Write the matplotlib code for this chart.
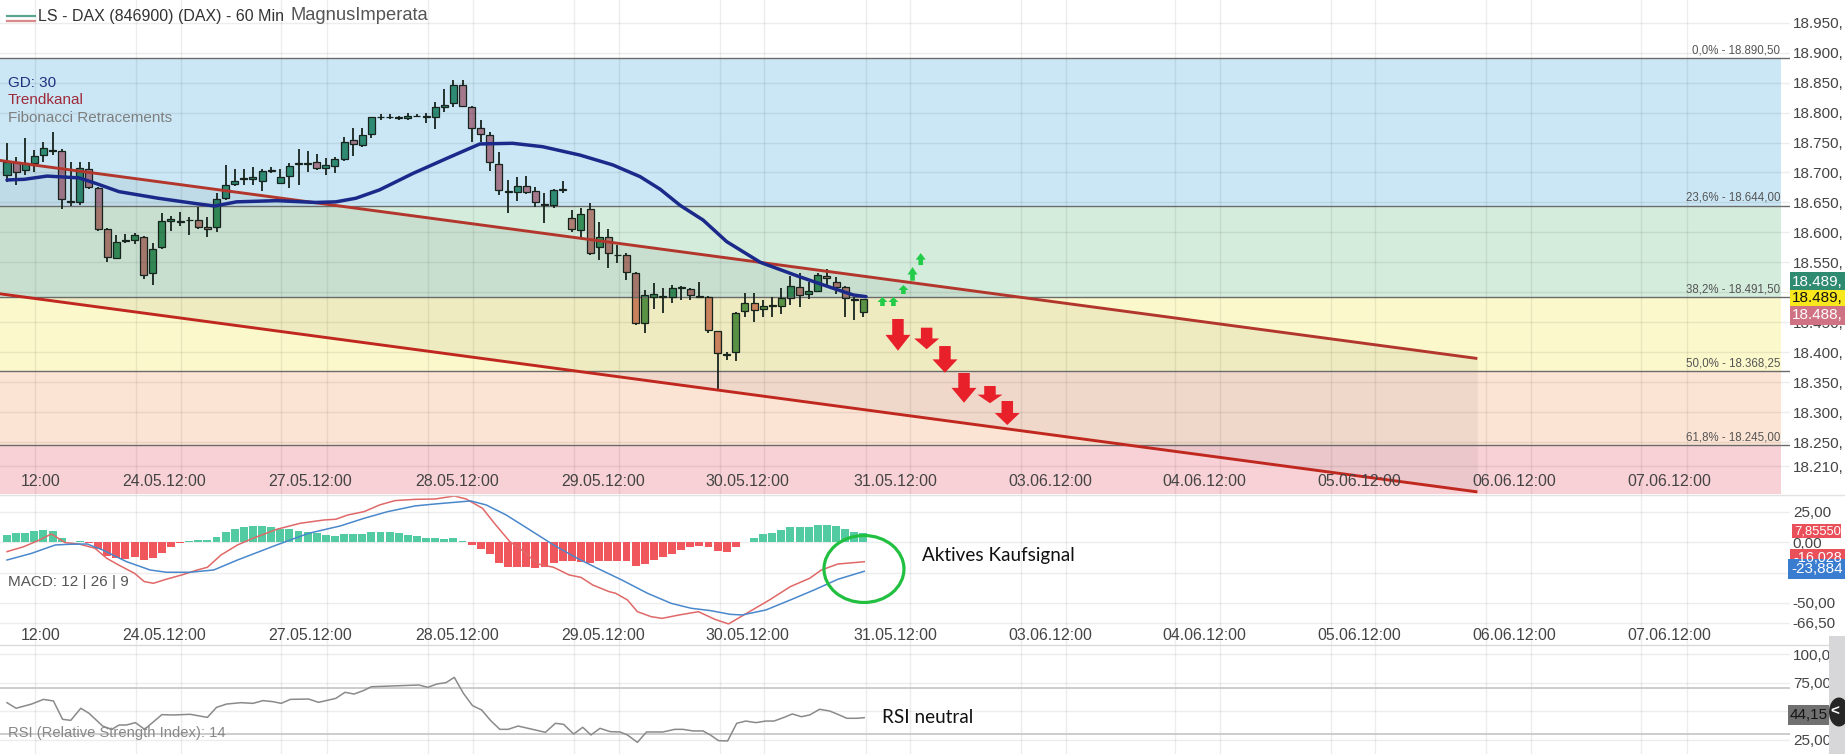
import matplotlib
matplotlib.use("Agg")
import matplotlib.pyplot as plt
import matplotlib.colors as mcolors
from matplotlib.patches import Rectangle, Ellipse, Polygon
from matplotlib.lines import Line2D
import numpy as np

plt.rcParams['font.family'] = ['Liberation Sans', 'DejaVu Sans']

# ---------------- data ----------------
OPEN = [18695.8, 18718.1, 18704.2, 18716.4, 18729.2, 18735.9, 18735.9, 18653.0, 18651.4, 18705.3,
        18673.6, 18605.2, 18557.9, 18586.5, 18587.4, 18592.9, 18531.8, 18575.2, 18618.6, 18618.0,
        18620.8, 18620.8, 18608.6, 18608.6, 18656.9, 18680.8, 18688.6, 18688.6, 18686.4, 18702.5,
        18683.0, 18694.2, 18715.3, 18715.3, 18717.0, 18707.0, 18710.8, 18722.0, 18754.0, 18746.0,
        18764.0, 18792.0, 18793.0, 18792.0, 18791.0, 18794.0, 18795.0, 18793.0, 18810.0, 18816.0,
        18846.0, 18809.0, 18774.0, 18762.0, 18713.7, 18668.0, 18667.0, 18677.5, 18669.0, 18648.0,
        18645.0, 18671.0, 18623.6, 18604.0, 18638.6, 18575.0, 18591.8, 18562.0, 18562.0, 18531.7,
        18449.5, 18493.0, 18493.0, 18493.0, 18508.0, 18505.0, 18493.0, 18493.0, 18435.6, 18395.5,
        18401.0, 18468.9, 18482.8, 18471.7, 18477.3, 18477.3, 18490.0, 18509.5, 18496.7, 18502.8,
        18527.3, 18517.8, 18508.4, 18487.3, 18467.8]
HIGH = [18749.8, 18725.3, 18757.0, 18737.5, 18751.4, 18768.1, 18738.7, 18718.1, 18718.1, 18718.1,
        18676.4, 18606.9, 18595.8, 18597.4, 18598.5, 18594.0, 18581.9, 18633.0, 18627.5, 18634.7,
        18626.3, 18643.0, 18626.3, 18665.3, 18712.5, 18705.3, 18705.3, 18708.6, 18705.3, 18709.7,
        18705.3, 18716.4, 18738.7, 18736.4, 18730.9, 18723.6, 18726.4, 18759.8, 18774.0, 18775.0,
        18793.0, 18797.0, 18797.0, 18795.0, 18800.0, 18797.0, 18800.0, 18818.0, 18840.0, 18855.0,
        18854.0, 18811.0, 18788.0, 18768.0, 18733.7, 18687.5, 18693.0, 18694.0, 18675.0, 18665.0,
        18672.0, 18686.0, 18637.5, 18640.0, 18649.7, 18618.0, 18605.0, 18579.0, 18565.0, 18534.5,
        18504.0, 18515.0, 18507.0, 18512.3, 18510.6, 18506.7, 18518.0, 18494.0, 18435.6, 18401.0,
        18467.8, 18498.4, 18498.4, 18487.3, 18491.7, 18506.7, 18527.3, 18531.7, 18517.8, 18532.8,
        18538.4, 18525.0, 18510.6, 18492.8, 18489.5]
LOW = [18684.7, 18679.1, 18695.8, 18701.4, 18718.1, 18729.2, 18638.6, 18644.1, 18645.8, 18671.9,
       18603.0, 18551.3, 18555.2, 18581.9, 18580.7, 18521.8, 18512.4, 18572.4, 18603.0, 18610.8,
       18596.0, 18605.2, 18591.9, 18601.3, 18654.1, 18677.5, 18679.1, 18679.1, 18669.7, 18698.6,
       18681.9, 18674.7, 18679.1, 18701.4, 18704.2, 18695.8, 18698.6, 18719.8, 18728.0, 18743.0,
       18758.0, 18788.0, 18789.0, 18788.0, 18788.0, 18792.0, 18783.0, 18772.0, 18801.0, 18810.0,
       18811.0, 18751.0, 18751.0, 18702.6, 18663.0, 18633.0, 18653.0, 18664.0, 18643.0, 18616.0,
       18640.0, 18665.0, 18601.0, 18593.0, 18562.0, 18554.0, 18540.0, 18548.5, 18520.6, 18445.6,
       18431.7, 18471.7, 18466.0, 18482.8, 18487.0, 18487.0, 18490.0, 18431.7, 18336.0, 18387.0,
       18386.0, 18459.5, 18451.0, 18458.4, 18459.5, 18463.9, 18478.9, 18476.1, 18488.4, 18501.2,
       18512.3, 18497.3, 18458.4, 18453.9, 18459.5]
CLOSE = [18718.1, 18701.4, 18715.3, 18727.5, 18740.3, 18736.4, 18655.3, 18650.3, 18707.0, 18675.3,
         18605.2, 18558.5, 18584.6, 18587.4, 18595.8, 18529.0, 18571.8, 18618.6, 18623.0, 18618.6,
         18620.2, 18609.7, 18605.2, 18655.3, 18679.1, 18685.8, 18690.3, 18691.9, 18703.1, 18703.1,
         18693.1, 18710.8, 18715.8, 18715.6, 18707.0, 18712.5, 18722.0, 18751.4, 18747.0, 18762.6,
         18792.0, 18793.0, 18792.0, 18791.0, 18795.0, 18794.5, 18793.0, 18809.0, 18812.0, 18846.0,
         18811.0, 18775.0, 18764.5, 18717.6, 18670.9, 18668.5, 18677.5, 18668.0, 18650.0, 18645.0,
         18671.0, 18671.5, 18605.0, 18631.0, 18565.0, 18592.0, 18565.0, 18562.5, 18534.5, 18449.5,
         18495.6, 18497.0, 18493.5, 18507.0, 18508.4, 18495.6, 18493.5, 18437.2, 18399.4, 18396.0,
         18465.0, 18482.8, 18470.6, 18477.3, 18477.8, 18490.0, 18510.6, 18495.6, 18502.3, 18529.0,
         18524.5, 18509.5, 18490.0, 18487.8, 18488.5]

# GD 30 (moving average), read at bar positions
MA30_X = [0, 1.9, 4.4, 7.9, 9.7, 12.3, 16.6, 21.0, 22.8, 25.2, 29.6, 33.9, 36.1, 38.3, 40.9, 44.6,
          48.3, 51.9, 55.5, 58.8, 62.9, 66.5, 69.5, 71.7, 73.9, 76.4, 79.0, 82.7, 87.0, 90.7, 92.9, 94.3]
MA30_Y = [18687.5, 18688.6, 18694.0, 18691.0, 18682.0, 18668.0, 18657.0, 18647.5, 18644.0, 18651.0,
          18653.0, 18650.0, 18651.0, 18657.0, 18671.0, 18698.7, 18723.7, 18747.6, 18748.7, 18743.0,
          18729.0, 18712.6, 18693.0, 18672.0, 18645.0, 18620.7, 18584.6, 18550.0, 18526.0, 18506.7,
          18495.6, 18492.8]

# Trend channel
CHANNEL_X = [-1.0, 161.4]
CHANNEL_UPPER = [18720.5, 18389.6]
CHANNEL_LOWER = [18498.0, 18167.0]

# Fibonacci retracements
FIB_LEVELS = [18890.50, 18644.00, 18491.50, 18368.25, 18245.00]
FIB_TEXT = ["0,0% - 18.890,50", "23,6% - 18.644,00", "38,2% - 18.491,50",
            "50,0% - 18.368,25", "61,8% - 18.245,00"]

# price scale (labels are cut at the picture edge in the original: "18.950,")
PRICE_TICKS = [18950, 18900, 18850, 18800, 18750, 18700, 18650, 18600, 18550, 18500,
               18450, 18400, 18350, 18300, 18250, 18210]
PRICE_TICK_LABELS = ["18.950,", "18.900,", "18.850,", "18.800,", "18.750,", "18.700,", "18.650,",
                     "18.600,", "18.550,", "", "18.450,", "18.400,", "18.350,", "18.300,",
                     "18.250,", "18.210,"]

TIME_TICKS = [3.7, 17.2, 33.3, 49.4, 65.4, 81.3, 97.5, 114.5, 131.4, 148.4, 165.5, 182.5]
TIME_LABELS = ["12:00", "24.05.12:00", "27.05.12:00", "28.05.12:00", "29.05.12:00", "30.05.12:00",
               "31.05.12:00", "03.06.12:00", "04.06.12:00", "05.06.12:00", "06.06.12:00", "07.06.12:00"]
GRID_X = [3.1, 14.2, 19.1, 30.1, 35.1, 46.2, 51.2, 62.2, 67.2, 78.3, 83.1, 94.3, 99.1, 111.3,
          116.2, 128.2, 133.2, 145.3, 150.2, 162.3, 167.3, 179.4, 184.4]

# MACD 12 | 26 | 9
MACD_HIST = [6.0, 7.4, 8.0, 9.0, 10.2, 9.6, 3.3, 0.3, 1.1, -0.5,
             -5.5, -11.3, -13.2, -14.0, -12.5, -14.6, -13.2, -8.5, -4.1, -0.8,
             1.4, 1.9, 1.9, 4.4, 8.2, 10.7, 12.9, 13.5, 13.5, 12.4,
             10.7, 10.7, 9.6, 8.8, 7.4, 6.0, 5.5, 6.6, 6.6, 6.6,
             8.2, 8.2, 8.2, 8.0, 6.0, 5.2, 3.3, 3.3, 2.5, 3.3,
             1.4, -2.2, -5.5, -9.9, -16.8, -20.1, -20.1, -20.1, -20.9, -20.1,
             -16.8, -15.1, -15.4, -15.9, -16.8, -15.1, -15.4, -15.4, -15.4, -19.5,
             -17.9, -14.6, -11.8, -9.6, -6.3, -4.1, -3.0, -4.1, -6.9, -7.7,
             -3.6, 0.5, 3.3, 6.9, 8.0, 10.2, 12.4, 12.9, 12.9, 14.3,
             14.3, 13.5, 10.7, 8.8, 7.86]
MACD_X = [0, 1.84, 3.57, 4.87, 6.39, 7.9, 9.65, 10.95, 12.25, 14.0, 15.07, 16.07, 17.46, 19.2, 20.9,
          22.0, 23.5, 25.3, 27.0, 29.6, 32.2, 34.8, 36.1, 37.4, 39.2, 40.9, 42.6, 44.8, 47.0, 49.1,
          50.4, 52.2, 53.5, 55.2, 56.5, 58.3, 60.0, 61.7, 63.0, 64.3, 66.1, 66.8, 68.1, 69.2, 70.7,
          71.9, 73.8, 75.9, 77.7, 79.2, 81.2, 83.7, 86.0, 88.1, 89.4, 91.2, 94.1]
MACD_Y = [-7.7, -3.6, 1.9, 6.9, -0.3, -1.4, -4.9, -13.2, -18.7, -25.6, -32.4, -33.8, -30.5, -26.9, -22.8,
          -20.6, -10.4, -2.2, 3.3, 10.7, 15.7, 18.4, 19.0, 22.5, 25.3, 30.8, 34.4, 35.4, 35.7, 38.2,
          35.7, 28.0, 15.7, 0.5, -6.3, -17.9, -20.6, -26.9, -28.9, -35.2, -40.7, -42.0, -47.5, -57.2, -61.3,
          -62.7, -59.9, -57.2, -63.5, -67.3, -58.5, -47.5, -36.5, -29.7, -22.8, -17.9, -16.03]
SIGNAL_X = [0, 2.7, 5.3, 7.0, 8.8, 10.5, 13.1, 15.7, 17.5, 20.1, 22.7, 25.3, 29.6, 33.1, 36.6, 39.2,
            41.8, 44.8, 47.0, 50.9, 52.6, 54.8, 57.4, 60.0, 62.6, 64.8, 67.5, 70.3, 72.9, 75.1, 77.2,
            79.4, 80.7, 83.3, 86.0, 88.6, 91.2, 94.1]
SIGNAL_Y = [-14.6, -9.1, -2.2, -1.6, -1.4, -6.3, -15.9, -22.8, -24.7, -24.7, -22.8, -14.6, -2.2, 7.4,
            13.5, 19.8, 25.3, 30.0, 31.6, 34.1, 30.8, 22.5, 10.2, -2.2, -13.2, -21.4, -31.1, -42.0,
            -50.3, -54.4, -56.3, -59.4, -59.9, -55.8, -47.5, -39.3, -30.5, -23.88]
MACD_TICKS = [25, 0, -25, -50, -66.5]
MACD_TICK_LABELS = ["25,00", "0,00", "", "-50,00", "-66,50"]

# RSI 14
RSI_X = [0, 1.0, 2.7, 4.0, 5.1, 6.1, 7.0, 8.1, 9.0, 10.5, 11.5, 12.3, 13.1, 14.1, 15.1, 17.0, 18.3,
         20.1, 22.0, 23.0, 24.1, 25.7, 27.0, 28.1, 29.2, 30.1, 31.1, 33.1, 34.2, 36.1, 37.1, 38.1,
         39.1, 40.0, 45.2, 46.2, 47.2, 48.2, 49.1, 50.1, 51.1, 52.1, 53.1, 54.1, 55.0, 56.1, 57.2,
         59.1, 60.2, 61.1, 62.2, 63.2, 64.1, 65.1, 66.2, 67.3, 68.1, 69.2, 70.2, 72.0, 73.3, 74.2,
         75.3, 76.4, 77.2, 78.1, 79.1, 80.1, 81.1, 82.2, 83.3, 84.2, 85.3, 86.2, 87.2, 88.1, 89.2,
         90.3, 91.1, 92.2, 93.3, 94.1]
RSI_Y = [57.3, 52.4, 56.1, 60.2, 58.8, 42.7, 41.8, 52.4, 48.0, 36.8, 33.9, 37.7, 37.7, 39.8, 33.9,
         46.8, 46.5, 47.1, 44.4, 53.2, 56.1, 57.3, 56.7, 59.1, 58.2, 56.7, 60.2, 60.5, 57.6, 61.1,
         66.4, 64.9, 67.8, 71.3, 72.8, 70.8, 73.7, 74.9, 79.5, 65.5, 54.7, 50.9, 41.5, 33.9, 33.9,
         36.8, 34.8, 31.3, 39.2, 38.3, 29.8, 35.7, 29.0, 34.8, 31.9, 31.6, 29.0, 22.5, 31.6, 31.6,
         33.9, 33.9, 32.5, 32.5, 29.0, 24.0, 23.7, 39.2, 41.2, 39.8, 41.2, 41.2, 44.4, 47.4, 45.0,
         46.5, 51.5, 50.0, 47.4, 43.6, 43.6, 44.15]
RSI_TICKS = [100, 75, 50, 25]
RSI_TICK_LABELS = ["100,0", "75,00", "", "25,00"]
RSI_BANDS = [70, 30]

# Hand-drawn annotation arrows (bar position, top price, bottom price)
UP_ARROW_X = [96.1, 97.3, 98.4, 99.4, 100.3]
UP_ARROW_TOP = [18492.2, 18492.2, 18512.2, 18542.2, 18565.5]
UP_ARROW_BOTTOM = [18477.2, 18477.2, 18497.2, 18519.4, 18545.5]
DOWN_ARROW_X = [97.8, 100.95, 102.96, 105.05, 107.9, 109.8]
DOWN_ARROW_TOP = [18455.5, 18441.0, 18410.4, 18365.4, 18343.7, 18318.7]
DOWN_ARROW_BOTTOM = [18402.6, 18405.0, 18365.9, 18315.8, 18315.0, 18278.6]

# ---------------- layout / style ----------------
W, H, DPI = 1845, 754, 100
AX_R = 1790
MAIN_BOT = 494
MACD_BOT = 645
BAR0_PX = 7.0
PX_PER_BAR = 9.11
XL = (-BAR0_PX / PX_PER_BAR, (AX_R - BAR0_PX) / PX_PER_BAR)
FIB_RIGHT = (1781 - BAR0_PX) / PX_PER_BAR
FIB_LABEL_X = (1780 - BAR0_PX) / PX_PER_BAR

ZONE_LOOK = ["#cbe8f6", "#d3ecdc", "#fbf8cc", "#fde4d4", "#f8d1d6"]
FILL_ALPHA = 0.35
UP_COL = "#0e7037"
DN_COL = "#c5565f"
EDGE = "#17231d"
TICK_COL = "#444444"
FS = 11.0


def overlay(col):
    rgb = mcolors.to_rgb(col)
    return tuple(max(0.0, min(1.0, 1 - (1 - c) / FILL_ALPHA)) for c in rgb)


fig = plt.figure(figsize=(W / DPI, H / DPI), dpi=DPI)
fig.patch.set_facecolor("white")

ax = fig.add_axes([0, 1 - MAIN_BOT / H, AX_R / W, MAIN_BOT / H])
axm = fig.add_axes([0, 1 - MACD_BOT / H, AX_R / W, (MACD_BOT - MAIN_BOT) / H], sharex=ax)
axr = fig.add_axes([0, 0, AX_R / W, (H - MACD_BOT) / H], sharex=ax)

for a in (ax, axm, axr):
    for s in a.spines.values():
        s.set_visible(False)
    a.set_facecolor("white")
    a.set_axisbelow("line")
    a.yaxis.tick_right()
    a.tick_params(axis="y", length=0, pad=2, labelsize=FS, labelcolor=TICK_COL,
                  left=False, right=False, labelleft=False, labelright=True)
    a.tick_params(axis="x", length=0, labelbottom=False, bottom=False)
    a.grid(True, color="black", alpha=0.07, lw=1.0)

ax.set_xlim(*XL)
ax.set_xticks(GRID_X)
ax.set_ylim(18163.5, 18987.8)
ax.set_yticks(PRICE_TICKS)
ax.set_yticklabels(PRICE_TICK_LABELS)

# Fibonacci zones (semi-transparent, over candle bodies)
bounds = FIB_LEVELS + [18000.0]
for k in range(5):
    hi, lo = bounds[k], bounds[k + 1]
    ax.add_patch(Rectangle((XL[0] - 1, lo), FIB_RIGHT - XL[0] + 1, hi - lo,
                           facecolor=overlay(ZONE_LOOK[k]), alpha=FILL_ALPHA, lw=0, zorder=1.0))
for lvl, txt in zip(FIB_LEVELS, FIB_TEXT):
    ax.axhline(lvl, color="#6b6b6b", lw=1.0, zorder=1.6)
    ax.annotate(txt, xy=(FIB_LABEL_X, lvl), xytext=(0, 1.5), textcoords="offset points",
                ha="right", va="bottom", fontsize=8.3, color="#555555", zorder=3)

# Trend channel
ax.fill_between(CHANNEL_X, CHANNEL_LOWER, CHANNEL_UPPER, color="black", alpha=0.05, lw=0, zorder=1.2)
ax.plot(CHANNEL_X, CHANNEL_UPPER, color="#b3362c", lw=2.1, zorder=2.2, solid_capstyle="butt")
ax.plot(CHANNEL_X, CHANNEL_LOWER, color="#c0281f", lw=2.1, zorder=2.2, solid_capstyle="butt")

# Candles
BW = 0.77
for i in range(len(OPEN)):
    o, h, l, c = OPEN[i], HIGH[i], LOW[i], CLOSE[i]
    top, bot = max(o, c), min(o, c)
    if top - bot < 1.2:
        mid = (top + bot) / 2
        top, bot = mid + 0.6, mid - 0.6
    col = UP_COL if c >= o else DN_COL
    ax.add_patch(Rectangle((i - BW / 2, bot), BW, top - bot, facecolor=col, edgecolor="none", zorder=0.8))
    ax.add_patch(Rectangle((i - BW / 2, bot), BW, top - bot, facecolor="none", edgecolor=EDGE,
                           lw=0.9, zorder=2.05))
    if h > top:
        ax.plot([i, i], [top, h], color=EDGE, lw=1.3, zorder=2.05, solid_capstyle="butt")
    if l < bot:
        ax.plot([i, i], [l, bot], color=EDGE, lw=1.3, zorder=2.05, solid_capstyle="butt")

# GD 30
ax.plot(MA30_X, MA30_Y, color="#1b2a8a", lw=2.5, zorder=2.3, solid_capstyle="round",
        solid_joinstyle="round")


# Arrows
def arrow_pts(x, top, bot, width, up):
    hgt = top - bot
    hw = width / 2
    sw = hw * 0.46
    if up:
        neck = top - hgt * 0.55
        return [(x, top), (x + hw, neck), (x + sw, neck), (x + sw, bot), (x - sw, bot),
                (x - sw, neck), (x - hw, neck)]
    neck = bot + hgt * 0.5
    return [(x - sw, top), (x + sw, top), (x + sw, neck), (x + hw, neck), (x, bot),
            (x - hw, neck), (x - sw, neck)]


for x, t, b in zip(UP_ARROW_X, UP_ARROW_TOP, UP_ARROW_BOTTOM):
    ax.add_patch(Polygon(arrow_pts(x, t, b, 10 / PX_PER_BAR, True), closed=True,
                         facecolor="#22cc48", edgecolor="none", zorder=2.4))
for x, t, b in zip(DOWN_ARROW_X, DOWN_ARROW_TOP, DOWN_ARROW_BOTTOM):
    ax.add_patch(Polygon(arrow_pts(x, t, b, 25 / PX_PER_BAR, False), closed=True,
                         facecolor="#e8202a", edgecolor="none", zorder=2.4))

# time labels in price panel
for xp, lab in zip(TIME_TICKS, TIME_LABELS):
    ax.text(xp, (MAIN_BOT - 482) / MAIN_BOT, lab, transform=ax.get_xaxis_transform(),
            ha="center", va="center", fontsize=11.4, color=TICK_COL, zorder=3)

# ---------------- MACD ----------------
axm.set_ylim(-84.67, 39.82)
axm.set_yticks(MACD_TICKS)
axm.set_yticklabels(MACD_TICK_LABELS)
hist_cols = ["#52cba2" if v >= 0 else "#f0575c" for v in MACD_HIST]
axm.bar(np.arange(len(MACD_HIST)), MACD_HIST, width=0.87, color=hist_cols, lw=0, zorder=2)
axm.plot(MACD_X, MACD_Y, color="#e06868", lw=1.1, zorder=3)
axm.plot(SIGNAL_X, SIGNAL_Y, color="#4a88cc", lw=1.1, zorder=3)
for xp, lab in zip(TIME_TICKS, TIME_LABELS):
    axm.text(xp, (MACD_BOT - 635) / (MACD_BOT - MAIN_BOT), lab, transform=axm.get_xaxis_transform(),
             ha="center", va="center", fontsize=11.4, color=TICK_COL, zorder=3)
axm.add_patch(Ellipse((94.07, -22.0), 80 / PX_PER_BAR, 55.2, fill=False, edgecolor="#22c040",
                      lw=2.3, zorder=4, clip_on=False))
axm.text(100.4, -10.5, "Aktives Kaufsignal", ha="left", va="center", fontsize=13.6,
         family=["Lato", "DejaVu Sans"], color="#111111", zorder=4)

# ---------------- RSI ----------------
axr.set_ylim(12.28, 107.9)
axr.set_yticks(RSI_TICKS)
axr.set_yticklabels(RSI_TICK_LABELS)
for b in RSI_BANDS:
    axr.axhline(b, color="#cccccc", lw=1.4, zorder=1.8)
axr.plot(RSI_X, RSI_Y, color="#8a8a8a", lw=1.1, zorder=3)
axr.text(96.0, 43.9, "RSI neutral", ha="left", va="center", fontsize=13.6,
         family=["Lato", "DejaVu Sans"], color="#111111", zorder=4)


# ---------------- figure-level decorations ----------------
def fx(x):
    return x / W


def fy(y):
    return 1 - y / H


def frect(x, y, w, h, color):
    fig.add_artist(Rectangle((fx(x), fy(y + h)), w / W, h / H, transform=fig.transFigure,
                             facecolor=color, edgecolor="none"))


fig.add_artist(Line2D([0, fx(1829)], [fy(645), fy(645)], color="#dadada", lw=1.0))
fig.add_artist(Line2D([0, 1], [fy(494.5), fy(494.5)], color="#e2e2e2", lw=1.0))

# title
fig.add_artist(Line2D([fx(7), fx(35)], [fy(15.5), fy(15.5)], color="#5aa58f", lw=1.6))
fig.add_artist(Line2D([fx(7), fx(35)], [fy(20.5), fy(20.5)], color="#d98a8a", lw=1.6))
fig.text(fx(37.5), fy(17), "LS - DAX (846900) (DAX) - 60 Min", fontsize=11.5, color="#333333",
         va="center", ha="left")
fig.text(fx(290), fy(16), "MagnusImperata", fontsize=13.2, color="#555555", va="center", ha="left")

# indicator legends
fig.text(fx(8), fy(83), "GD: 30", fontsize=11, color="#1f2f7f", va="center")
fig.text(fx(8), fy(100.5), "Trendkanal", fontsize=11, color="#9e2a3a", va="center")
fig.text(fx(8), fy(118), "Fibonacci Retracements", fontsize=11, color="#7f7f7f", va="center")
fig.text(fx(8), fy(582), "MACD: 12 | 26 | 9", fontsize=11, color="#555555", va="center")
fig.text(fx(8), fy(733), "RSI (Relative Strength Index): 14", fontsize=10.6, color="#888888",
         va="center")

# price badges (cut at the picture edge as in the original)
frect(1790, 272, 55, 18.5, "#2e8b6f")
fig.text(fx(1792), fy(281.5), "18.489,", fontsize=FS, color="white", va="center")
frect(1790, 290, 55, 15.5, "#f8e71c")
fig.text(fx(1792), fy(298), "18.489,", fontsize=FS, color="#111111", va="center")
frect(1790, 305.5, 55, 19.5, "#cf7384")
fig.text(fx(1792), fy(315), "18.488,", fontsize=FS, color="white", va="center")

# MACD badges
frect(1792, 524, 49, 14, "#e9505a")
fig.text(fx(1794), fy(531), "7,85550", fontsize=9.4, color="white", va="center")
frect(1790, 549, 55, 17, "#e9505a")
fig.text(fx(1793), fy(557.5), "-16,028", fontsize=10.4, color="white", va="center")
frect(1788, 559, 57, 20, "#3a7cd0")
fig.text(fx(1791), fy(569), "-23,884", fontsize=11.0, color="white", va="center")

# RSI badge and scroll button
frect(1788, 705, 42, 20, "#707070")
fig.text(fx(1790), fy(715), "44,15", fontsize=FS, color="#151515", va="center")
frect(1829, 636, 16, 118, "#d7d7da")
fig.add_artist(Ellipse((fx(1839), fy(712)), 20 / W, 29 / H, transform=fig.transFigure,
                       facecolor="#262626", edgecolor="none"))
fig.text(fx(1835), fy(712), "<", fontsize=11, color="white", va="center", ha="center",
         fontweight="bold")

fig.savefig("out.png", dpi=DPI)
